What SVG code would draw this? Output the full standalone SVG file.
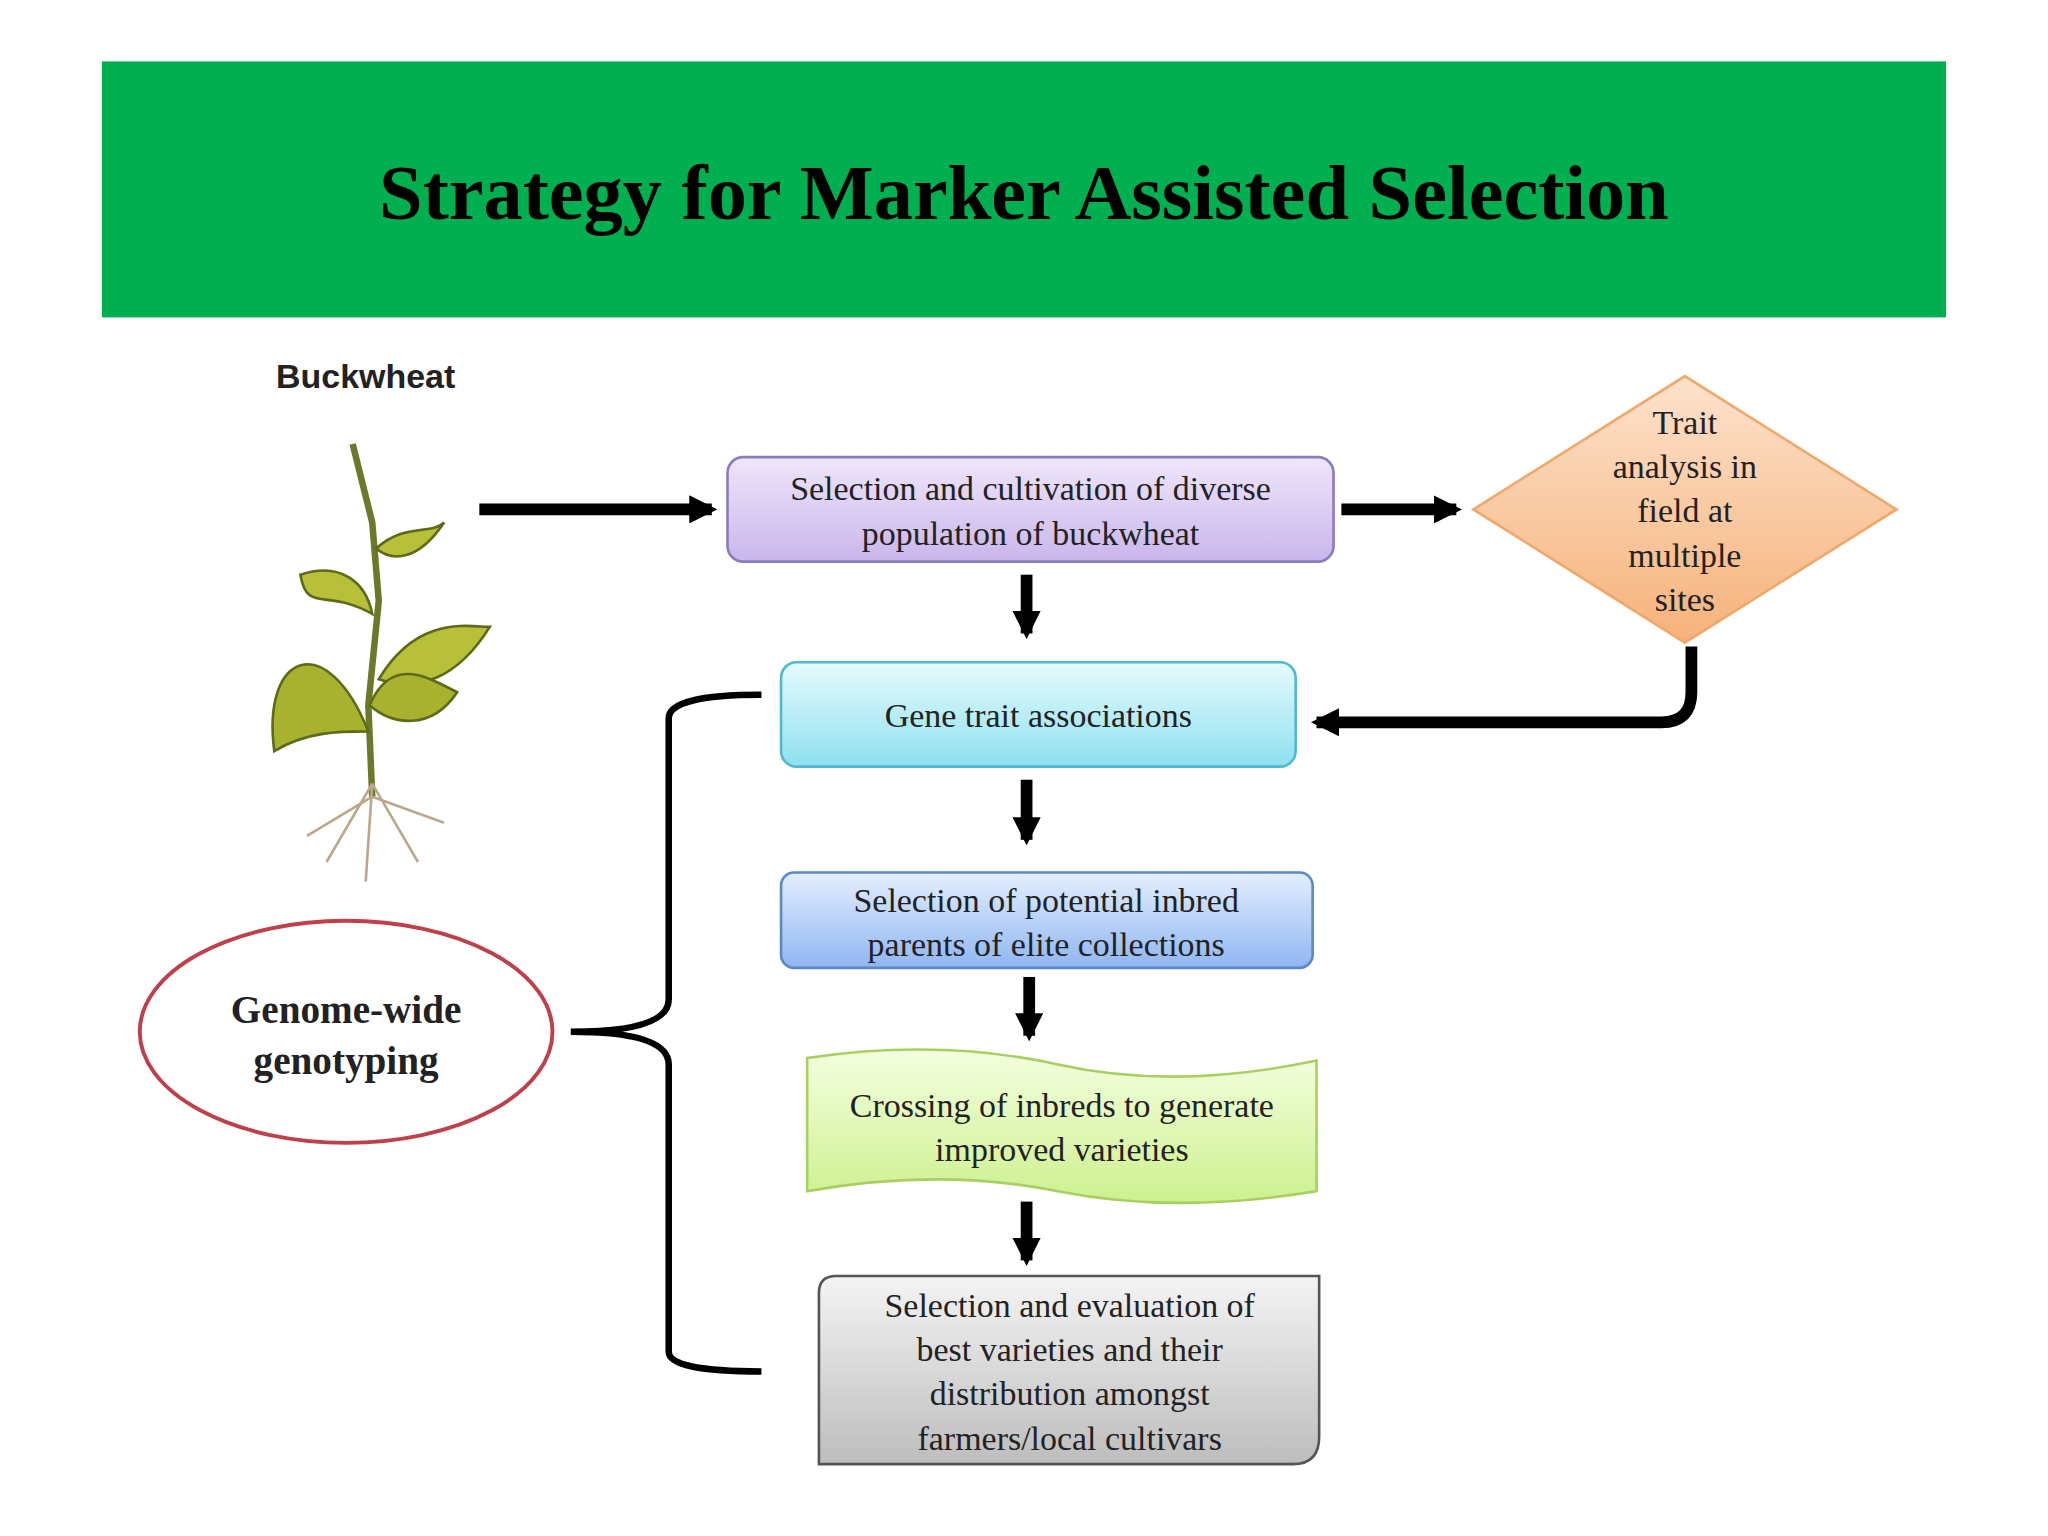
<svg xmlns="http://www.w3.org/2000/svg" width="2048" height="1536" viewBox="0 0 2048 1536">
<defs>
<style>
.t{font-family:"Liberation Serif",serif;font-size:26px;fill:#222;text-anchor:middle}
.ln{stroke:#000;stroke-width:9;fill:none}
</style>
<marker id="ah" viewBox="0 0 10 10" refX="8" refY="5" markerWidth="2.4" markerHeight="2.4" orient="auto"><path d="M0,0L10,5L0,10z" fill="#000"/></marker>
<linearGradient id="g1" x1="0" y1="0" x2="0" y2="1"><stop offset="0" stop-color="#efe6fb"/><stop offset="1" stop-color="#c9b6ec"/></linearGradient>
<linearGradient id="g2" x1="0" y1="0" x2="0" y2="1"><stop offset="0" stop-color="#e6fbfd"/><stop offset="1" stop-color="#8ee0f0"/></linearGradient>
<linearGradient id="g3" x1="0" y1="0" x2="0" y2="1"><stop offset="0" stop-color="#e4efff"/><stop offset="1" stop-color="#8fb6f2"/></linearGradient>
<linearGradient id="g4" x1="0" y1="0" x2="0" y2="1"><stop offset="0" stop-color="#f4ffe0"/><stop offset="1" stop-color="#cdf08e"/></linearGradient>
<linearGradient id="g5" x1="0" y1="0" x2="0" y2="1"><stop offset="0" stop-color="#f4f4f4"/><stop offset="1" stop-color="#bdbdbd"/></linearGradient>
<linearGradient id="g6" x1="0" y1="0" x2="0" y2="1"><stop offset="0" stop-color="#fde2cc"/><stop offset="1" stop-color="#f6b27a"/></linearGradient>
</defs>
<rect width="2048" height="1536" fill="#fff"/>
<g transform="scale(1.3061)">
<g id="title"><rect x="78" y="47" width="1412" height="196" fill="#00b050"/>
<text x="784" y="168" style="font-family:'Liberation Serif',serif;font-size:60px;font-weight:bold;text-anchor:middle">Strategy for Marker Assisted Selection</text></g>
<g id="plant">
<text x="280" y="297" style="font-family:'Liberation Sans',sans-serif;font-size:26px;font-weight:bold;text-anchor:middle;fill:#222">Buckwheat</text>
<path d="M285,610 L282,540 L290,460 L285,400 L270,340" stroke="#6b7a2a" stroke-width="5" fill="none"/>
<path d="M282,560 C250,480 200,500 210,575 C235,560 260,560 282,560Z" fill="#a8b22e" stroke="#5d6a18" stroke-width="2"/>
<path d="M290,520 C320,470 360,480 375,480 C350,520 320,530 290,520Z" fill="#b8c03a" stroke="#5d6a18" stroke-width="2"/>
<path d="M285,470 C250,450 235,470 230,440 C260,430 280,445 285,470Z" fill="#b8c03a" stroke="#5d6a18" stroke-width="2"/>
<path d="M288,420 C310,400 330,410 340,400 C320,430 300,430 288,420Z" fill="#b8c03a" stroke="#5d6a18" stroke-width="2"/>
<path d="M283,540 C300,500 330,520 350,530 C330,560 300,555 283,540Z" fill="#a8b22e" stroke="#5d6a18" stroke-width="2"/>
<path d="M285,600 L250,660 M285,600 L280,675 M285,600 L320,660 M285,610 L235,640 M285,610 L340,630" stroke="#b9a98a" stroke-width="2" fill="none"/>
</g>
<g id="connectors">
<path class="ln" d="M367,390H545" marker-end="url(#ah)"/>
<path class="ln" d="M1027,390H1115" marker-end="url(#ah)"/>
<path class="ln" d="M786,440V485" marker-end="url(#ah)"/>
<path class="ln" d="M1295,495V530Q1295,553 1272,553H1008" marker-end="url(#ah)"/>
<path class="ln" d="M786,597V643" marker-end="url(#ah)"/>
<path class="ln" d="M788,748V793" marker-end="url(#ah)"/>
<path class="ln" d="M786,920V965" marker-end="url(#ah)"/>
<path d="M583,532Q512,532 512,550V765Q512,790 437,790Q512,790 512,815V1035Q512,1050 583,1050" stroke="#000" stroke-width="5" fill="none"/>
</g>
<g id="n1"><rect x="557" y="350" width="464" height="80" rx="12" fill="url(#g1)" stroke="#8a7cc0" stroke-width="2"/>
<text class="t" x="789" y="383">Selection and cultivation of  diverse</text><text class="t" x="789" y="417">population of buckwheat</text></g>
<g id="n2"><path d="M1290,288L1452,390L1290,492L1128,390Z" fill="url(#g6)" stroke="#f0a868" stroke-width="2"/>
<text class="t" x="1290" y="332">Trait</text><text class="t" x="1290" y="366">analysis in</text><text class="t" x="1290" y="400">field at</text><text class="t" x="1290" y="434">multiple</text><text class="t" x="1290" y="468">sites</text></g>
<g id="n3"><rect x="598" y="507" width="394" height="80" rx="12" fill="url(#g2)" stroke="#50b8d0" stroke-width="2"/>
<text class="t" x="795" y="557">Gene trait associations</text></g>
<g id="n4"><rect x="598" y="668" width="407" height="73" rx="10" fill="url(#g3)" stroke="#5a88c8" stroke-width="2"/>
<text class="t" x="801" y="698">Selection of potential inbred</text><text class="t" x="801" y="732">parents of elite collections</text></g>
<g id="n5"><path d="M618,810Q720,795 810,815T1008,812V912Q900,930 810,912T618,912Z" fill="url(#g4)" stroke="#a8d060" stroke-width="2"/>
<text class="t" x="813" y="855">Crossing of inbreds to generate</text><text class="t" x="813" y="889">improved varieties</text></g>
<g id="n6"><path d="M640,977H1010V1100Q1010,1121 990,1121H627V990Q627,977 640,977Z" fill="url(#g5)" stroke="#555" stroke-width="2"/>
<text class="t" x="819" y="1008">Selection and evaluation of</text><text class="t" x="819" y="1042">best varieties and their</text><text class="t" x="819" y="1076">distribution amongst</text><text class="t" x="819" y="1110">farmers/local cultivars</text></g>
<g id="n7"><ellipse cx="265" cy="790" rx="158" ry="85" fill="#fff" stroke="#c0404a" stroke-width="3"/>
<text x="265" y="783" style="font-family:'Liberation Serif',serif;font-size:30px;font-weight:bold;text-anchor:middle;fill:#222">Genome-wide</text>
<text x="265" y="822" style="font-family:'Liberation Serif',serif;font-size:30px;font-weight:bold;text-anchor:middle;fill:#222">genotyping</text></g>
</g>
</svg>
